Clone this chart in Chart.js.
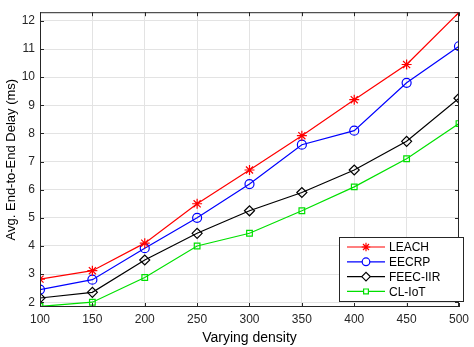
<!DOCTYPE html>
<html>
<head>
<meta charset="utf-8">
<script src="https://cdn.jsdelivr.net/npm/chart.js@4"></script>
<style>
  html, body { margin: 0; padding: 0; background: #fff; }
  #wrap { width: 474px; height: 347px; position: relative; }
</style>
</head>
<body>
<div id="wrap"><canvas id="chart"></canvas></div>
<script>
// data
const density = [100, 150, 200, 250, 300, 350, 400, 450, 500];
const leach   = [2.82, 3.12, 4.1, 5.5, 6.7, 7.92, 9.2, 10.45, 12.3];
const eecrp   = [2.45, 2.8, 3.92, 5.0, 6.2, 7.6, 8.1, 9.8, 11.1];
const feecIir = [2.15, 2.35, 3.5, 4.45, 5.25, 5.9, 6.7, 7.72, 9.25];
const clIot   = [1.85, 2.0, 2.88, 4.0, 4.45, 5.25, 6.1, 7.1, 8.35];
const xTicks = [100, 150, 200, 250, 300, 350, 400, 450, 500];
const yTicks = [2, 3, 4, 5, 6, 7, 8, 9, 10, 11, 12];

function pts(arr) {
    return density.map((d, i) => ({x: d, y: arr[i]}));
}

function mkSet(label, arr, color, style, radius) {
    return {
        label: label,
        data: pts(arr),
        borderColor: color,
        backgroundColor: color,
        borderWidth: 1.2,
        pointStyle: style,
        pointRadius: radius,
        pointBorderColor: color,
        pointBackgroundColor: 'rgba(0,0,0,0)',
        pointBorderWidth: 1.2,
        showLine: true,
        tension: 0
    };
}

// legend drawn inside the plot, lower right, like the original
const boxLegend = {
    id: 'boxLegend',
    afterDraw(chart) {
        const ctx = chart.ctx;
        const x0 = 339, y0 = 237, w = 124, h = 64;
        ctx.save();
        ctx.fillStyle = '#fff';
        ctx.fillRect(x0, y0, w, h);
        ctx.strokeStyle = '#262626';
        ctx.lineWidth = 1;
        ctx.strokeRect(x0 + 0.5, y0 + 0.5, w, h);
        ctx.font = '12px "Liberation Sans", Arial, sans-serif';
        ctx.textBaseline = 'middle';
        chart.data.datasets.forEach((ds, i) => {
            const y = y0 + 10 + i * 14.8;
            ctx.strokeStyle = ds.borderColor;
            ctx.lineWidth = 1.2;
            ctx.beginPath();
            ctx.moveTo(x0 + 8, y);
            ctx.lineTo(x0 + 46, y);
            ctx.stroke();
            ctx.fillStyle = '#fff';
            Chart.helpers.drawPoint(ctx, {
                pointStyle: ds.pointStyle,
                radius: ds.pointRadius * 0.85,
                borderWidth: 1.2
            }, x0 + 27, y);
            ctx.fillStyle = '#000';
            ctx.fillText(ds.label, x0 + 50, y + 1);
        });
        ctx.restore();
    }
};

// draws the box and MATLAB style inward tick marks
const frame = {
    id: 'frame',
    afterDatasetsDraw(chart) {
        const a = chart.chartArea;
        const ctx = chart.ctx;
        const xs = chart.scales.x, ys = chart.scales.y;
        ctx.save();
        ctx.strokeStyle = '#262626';
        ctx.lineWidth = 1;
        ctx.strokeRect(a.left + 0.5, a.top + 0.5, a.right - a.left - 1, a.bottom - a.top - 1);
        ctx.beginPath();
        xTicks.forEach(v => {
            const px = Math.round(xs.getPixelForValue(v)) + 0.5;
            ctx.moveTo(px, a.bottom); ctx.lineTo(px, a.bottom - 4);
            ctx.moveTo(px, a.top); ctx.lineTo(px, a.top + 4);
        });
        yTicks.forEach(v => {
            const py = Math.round(ys.getPixelForValue(v)) + 0.5;
            ctx.moveTo(a.left, py); ctx.lineTo(a.left + 4, py);
            ctx.moveTo(a.right, py); ctx.lineTo(a.right - 4, py);
        });
        ctx.stroke();
        ctx.restore();
    }
};

const font = '"Liberation Sans", Arial, sans-serif';

new Chart(document.getElementById('chart'), {
    type: 'scatter',
    data: {
        datasets: [
            mkSet('LEACH', leach, '#ff0000', 'star', 5),
            mkSet('EECRP', eecrp, '#0000ff', 'circle', 4.5),
            mkSet('FEEC-IIR', feecIir, '#000000', 'rectRot', 5),
            mkSet('CL-IoT', clIot, '#00e000', 'rect', 4)
        ]
    },
    options: {
        responsive: true,
        maintainAspectRatio: false,
        animation: false,
        layout: { padding: { top: 4, right: 10, left: 0, bottom: 0 } },
        plugins: {
            legend: { display: false },
            tooltip: { enabled: false }
        },
        scales: {
            x: {
                type: 'linear',
                min: 100,
                max: 500,
                afterBuildTicks: s => { s.ticks = xTicks.map(v => ({value: v})); },
                afterFit: s => { s.height = 40; },
                grid: { color: '#e3e3e3', drawTicks: false },
                border: { display: false },
                ticks: { color: '#262626', font: { family: font, size: 12 }, padding: 5 },
                title: {
                    display: true,
                    text: 'Varying density',
                    color: '#000',
                    font: { family: font, size: 14 },
                    padding: { top: 0, bottom: 0 }
                }
            },
            y: {
                min: 1.83,
                max: 12.31,
                afterBuildTicks: s => { s.ticks = yTicks.map(v => ({value: v})); },
                afterFit: s => { s.width = 40; },
                grid: { color: '#e3e3e3', drawTicks: false },
                border: { display: false },
                ticks: { color: '#262626', font: { family: font, size: 12 }, padding: 5 },
                title: {
                    display: true,
                    text: 'Avg. End-to-End Delay (ms)',
                    color: '#000',
                    font: { family: font, size: 13 },
                    padding: { top: 4, bottom: 0 }
                }
            }
        }
    },
    plugins: [frame, boxLegend]
});
</script>
</body>
</html>
